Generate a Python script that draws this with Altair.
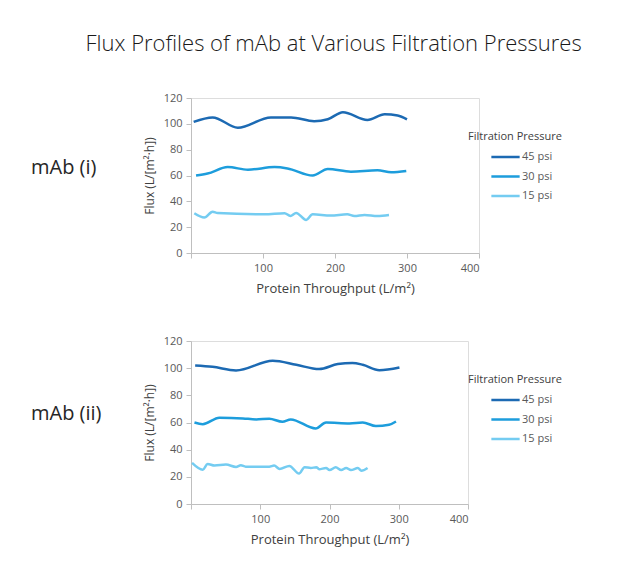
import altair as alt
import pandas as pd

FONT = "Open Sans"
series = ["45 psi", "30 psi", "15 psi"]
colors = ["#1c6ab3", "#1d9ddc", "#74ccf1"]

# Panel (i)
i45_x = [3.7, 30, 65, 111, 139, 171, 190, 211, 245, 269, 287, 300]
i45_y = [101.5, 105, 97, 105, 105, 102, 103.5, 109, 103, 107.5, 106.5, 103.5]
i30_x = [7, 23, 51, 79, 116, 134, 169, 190, 222, 259, 278, 299]
i30_y = [60, 61.5, 66.5, 64.5, 66.5, 65.5, 60, 65, 63, 64, 62.5, 63.5]
i15_x = [4.6, 18.5, 30, 37, 102, 130, 138, 146, 160, 169, 194, 217, 227, 241, 259, 275]
i15_y = [30.8, 27.5, 32, 31, 30, 30.8, 28.7, 31, 25.6, 30, 29, 30, 28.7, 29.5, 28.7, 29.5]

# Panel (ii)
ii45_x = [6, 31, 65, 118, 152, 185, 212, 233, 248, 272, 301]
ii45_y = [102, 101, 98.3, 105.4, 102.5, 99.3, 103, 103.8, 102.5, 98.5, 100.5]
ii30_x = [5, 17, 41, 75, 94, 113, 132, 144, 180, 195, 229, 248, 267, 286, 296]
ii30_y = [60, 58.8, 63.5, 63, 62.3, 62.8, 60.5, 62.3, 55.6, 60, 59.3, 60, 57.4, 58.3, 60.7]
ii15_x = [1.5, 17, 24, 34, 50.5, 65, 72, 79, 113, 120, 128, 142, 156, 164, 173, 181,
          185, 195, 200, 209, 217, 224, 231, 241, 246, 255]
ii15_y = [30.3, 25.3, 29.5, 28.3, 29, 27.3, 28.5, 27.5, 27.5, 28.3, 25.8, 28, 22.4, 27.1,
          26.5, 27.1, 25.6, 26.5, 25, 27, 25, 26.5, 25, 26.5, 24.5, 26.5]

x_ticks = [0, 100, 200, 300, 400]
y_ticks = [0, 20, 40, 60, 80, 100, 120]


def frame(xs, ys, name):
    return pd.DataFrame({"x": xs, "y": ys, "s": name, "o": list(range(len(xs)))})


def panel(data, label, w, h, label_frac):
    df = pd.concat([frame(*d) for d in data], ignore_index=True)
    lines = alt.Chart(df).mark_line(strokeWidth=2.5, interpolate="monotone").encode(
        x=alt.X("x:Q", scale=alt.Scale(domain=[0, 400], nice=False),
                axis=alt.Axis(values=x_ticks, title="Protein Throughput (L/m²)",
                              labelExpr="datum.value == 0 ? '' : datum.label",
                              grid=False, domainColor="#bfbfbf", tickColor="#bfbfbf",
                              tickSize=5, labelColor="#595959", labelFontSize=11,
                              labelFont=FONT, titleFont=FONT, titleFontSize=13,
                              titleFontWeight="normal", titleColor="#404040",
                              labelPadding=4, titlePadding=9)),
        y=alt.Y("y:Q", scale=alt.Scale(domain=[0, 120], nice=False),
                axis=alt.Axis(values=y_ticks, title="Flux (L/[m²·h])",
                              grid=False, domainColor="#bfbfbf", tickColor="#bfbfbf",
                              tickSize=5, labelColor="#595959", labelFontSize=11,
                              labelFont=FONT, titleFont=FONT, titleFontSize=12,
                              titleFontWeight="normal", titleColor="#404040",
                              labelPadding=4, titlePadding=7)),
        color=alt.Color("s:N", scale=alt.Scale(domain=series, range=colors),
                        legend=alt.Legend(title="Filtration Pressure", orient="none",
                                          legendX=277, legendY=33,
                                          symbolType="stroke", symbolSize=800,
                                          symbolStrokeWidth=2.5, symbolOffset=22,
                                          clipHeight=14, rowPadding=5.5,
                                          labelOffset=1,
                                          titleFont=FONT, titleFontSize=11,
                                          titleFontWeight="normal", titleColor="#404040",
                                          titlePadding=8,
                                          labelFont=FONT, labelFontSize=11,
                                          labelColor="#595959")),
        order="o:Q",
    )
    txt = alt.Chart(pd.DataFrame({"t": [label]})).mark_text(
        align="left", baseline="middle", font=FONT, fontSize=20, color="#262626"
    ).encode(text="t:N", x=alt.value(-160), y=alt.value(h * label_frac))
    return alt.layer(lines, txt).properties(width=w, height=h)


top = panel([(i45_x, i45_y, "45 psi"), (i30_x, i30_y, "30 psi"), (i15_x, i15_y, "15 psi")],
            "mAb (i)", 288, 155, 0.45)
bot = panel([(ii45_x, ii45_y, "45 psi"), (ii30_x, ii30_y, "30 psi"), (ii15_x, ii15_y, "15 psi")],
            "mAb (ii)", 277, 163, 0.45)

chart = alt.vconcat(top, bot, spacing=38).resolve_scale(color="independent").properties(
    title=alt.TitleParams("Flux Profiles of mAb at Various Filtration Pressures",
                          font=FONT, fontSize=22, fontWeight=300, color="#1a1a1a",
                          anchor="start", dx=55, offset=36),
    padding={"left": 30, "top": 32, "right": 10, "bottom": 10},
).configure_view(stroke=None).configure(background="white")

chart.save("out.html", embed_options={"renderer": "svg", "actions": False})
